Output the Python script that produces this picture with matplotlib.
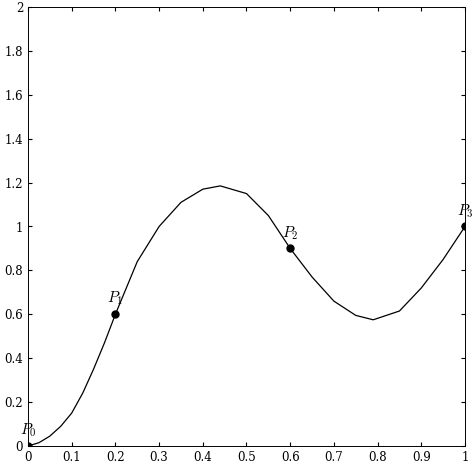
import matplotlib.pyplot as plt

plt.rcParams["mathtext.fontset"] = "cm"
plt.rcParams["font.family"] = "serif"
plt.rcParams["font.serif"] = ["DejaVu Serif"]

# curve
curve_x = [0, 0.025, 0.05, 0.075, 0.1, 0.125, 0.15, 0.175, 0.2, 0.25, 0.3, 0.35, 0.4, 0.44,
           0.5, 0.55, 0.6, 0.65, 0.7, 0.75, 0.79, 0.85, 0.9, 0.95, 1.0]
curve_y = [0, 0.015, 0.045, 0.09, 0.15, 0.24, 0.35, 0.47, 0.6, 0.84, 1.0, 1.11, 1.17, 1.185,
           1.15, 1.05, 0.9, 0.77, 0.66, 0.595, 0.575, 0.615, 0.72, 0.85, 1.0]

# control points
pts_x = [0, 0.2, 0.6, 1.0]
pts_y = [0, 0.6, 0.9, 1.0]
pts_labels = ["$P_0$", "$P_1$", "$P_2$", "$P_3$"]

fig = plt.figure(figsize=(4.74, 4.65), dpi=100)
ax = fig.add_axes([28 / 474, 19 / 465, 437 / 474, 439 / 465])
ax.plot(curve_x, curve_y, color="black", lw=0.9)
ax.plot(pts_x, pts_y, "o", color="black", ms=5)
for x, y, lab in zip(pts_x, pts_y, pts_labels):
    ax.annotate(lab, (x, y), xytext=(0, 5), textcoords="offset points",
                ha="center", va="bottom", fontsize=11)

ax.set_xlim(0, 1)
ax.set_ylim(0, 2)
ax.set_xticks([i / 10 for i in range(11)])
ax.set_xticklabels(["0", "0.1", "0.2", "0.3", "0.4", "0.5", "0.6", "0.7", "0.8", "0.9", "1"])
ax.set_yticks([i / 5 for i in range(11)])
ax.set_yticklabels(["0", "0.2", "0.4", "0.6", "0.8", "1", "1.2", "1.4", "1.6", "1.8", "2"])
ax.tick_params(direction="in", top=True, right=True, labelsize=8.5, length=3)
for s in ax.spines.values():
    s.set_linewidth(0.7)

fig.savefig("out.png", dpi=100)
